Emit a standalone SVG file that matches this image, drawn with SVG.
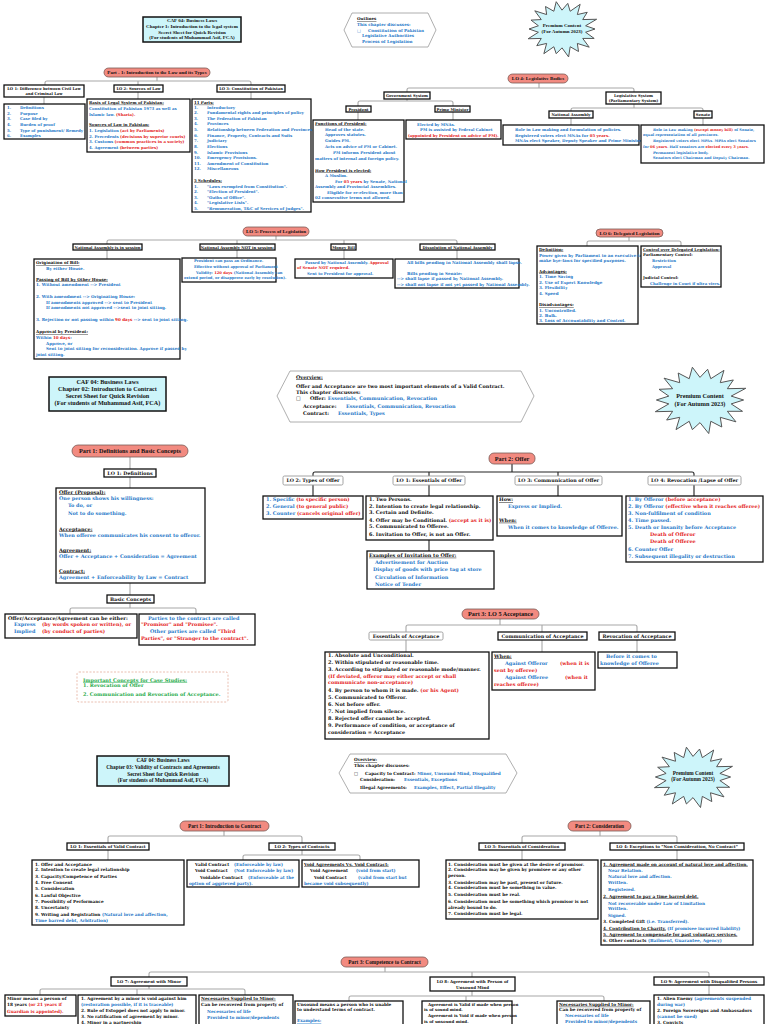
<svg xmlns="http://www.w3.org/2000/svg" width="768" height="1024" viewBox="0 0 768 1024">
<style>
text{font-family:"DejaVu Serif",serif;font-weight:bold;fill:#111}
.s1{font-size:4.1px}
.s2{font-size:4.95px}
.s3{font-size:4.25px}
.m{text-anchor:middle}
.u{fill:#1f78c8}
.r{fill:#e41b1b}
.g{fill:#1faa4a}
.h{text-decoration:underline}
.lb{font-size:3.75px}
.lb2{font-size:4.8px}
.lb3{font-size:4px}
.T{font-family:"Liberation Serif",serif}
.t1{font-size:5px}
.t2{font-size:6.2px}
.t3{font-size:5.3px}
.bx{fill:#fff;stroke:#111;stroke-width:1.3}
.gb{fill:#fff;stroke:#9a9a9a;stroke-width:0.9}
.pl{fill:#f28a80;stroke:#7a5a55;stroke-width:0.8}
.cy{fill:#cdf5fa;stroke:#111;stroke-width:1.5}
.hx{fill:#fff;stroke:#9a9a9a;stroke-width:0.8}
.st{fill:#cdf5fa;stroke:#555;stroke-width:1}
.cn{fill:none;stroke:#a8a8a8;stroke-width:1.1}
.ck{fill:none;stroke:#222;stroke-width:1.1}
.dz{fill:#fff;stroke:#e8b8a8;stroke-width:0.9;stroke-dasharray:2 1.5}
</style>
<defs>
<path id="star" vector-effect="non-scaling-stroke" d="M40,0 L28.6,5 L39,14.5 L25.1,14.5 L33,28 L18.6,22.2 L20,34.6 L9.9,27.3 L8,43 L0,29 L-7,38 L-9.9,27.3 L-22,38 L-18.6,22.2 L-30.6,25.7 L-25.1,14.5 L-41,15 L-28.6,5 L-40,0 L-28.6,-5 L-37.6,-13.7 L-25.1,-14.5 L-33,-28 L-18.6,-22.2 L-20,-34.6 L-9.9,-27.3 L-7,-42 L0,-29 L7,-39.4 L9.9,-27.3 L22,-38 L18.6,-22.2 L30.6,-25.7 L25.1,-14.5 L42,-15 L28.6,-5 Z"/>
</defs>
<rect width="768" height="1024" fill="#fff"/>

<g id="connectors">
<path class="cn" d="M157,77 V81 M45,85 V83 Q45,81 47,81 H249 Q251,81 251,83 V85 M138,81 V85"/>
<path class="cn" d="M44,97 V104 M138,92 V99 M251,92 V99"/>
<path class="cn" d="M539,83 V88 M407,92 V90 Q407,88 409,88 H632 Q634,88 634,90 V92"/>
<path class="cn" d="M407,99 V101 M358,106 V103 Q358,101 360,101 H451 Q453,101 453,103 V106 M358,112 V120 M453,112 V120"/>
<path class="cn" d="M634,104 V108 M571,111 V110 Q571,108 573,108 H701 Q703,108 703,110 V111 M571,118 V125 M703,118 V125"/>
<path class="cn" d="M276,236 V240 M107,244 V242 Q107,240 109,240 H455 Q457,240 457,242 V244 M237,240 V244 M344,240 V244"/>
<path class="cn" d="M107,250 V259 M237,250 V258 M344,250 V259 M457,250 V259"/>
<path class="cn" d="M629,237 V241 M587,246 V243 Q587,241 589,241 H679 Q681,241 681,243 V246"/>
<path class="cn" d="M130,457 V469" stroke-width="1.5"/>
<path class="cn" d="M130,477 V488 M130,583 V595" stroke-width="2.2"/>
<path class="cn" d="M130,603 V608 M70,614 V610 Q70,608 72,608 H194 Q196,608 196,610 V614"/>
<path class="ck" d="M512,464 V472 M313,476 V474 Q313,472 315,472 H692 Q694,472 694,474 V476 M429,472 V476 M558,472 V476"/>
<path class="ck" d="M313,485 V496 M429,485 V496 M558,485 V496 M694,485 V496 M429,540 V551"/>
<path class="cn" d="M500,619 V625 M406,632 V627 Q406,625 408,625 H635 Q637,625 637,627 V632 M542,625 V632"/>
<path class="cn" d="M406,640 V652 M542,640 V652 M637,640 V652"/>
<path class="cn" d="M224,831 V836 M108,843 V838 Q108,836 110,836 H300 Q302,836 302,838 V843"/>
<path class="cn" d="M108,850 V860 M302,850 V855 M243,860 V857 Q243,855 245,855 H358 Q360,855 360,857 V860"/>
<path class="cn" d="M600,831 V836 M522,843 V838 Q522,836 524,836 H675 Q677,836 677,838 V843 M522,850 V860 M677,850 V860"/>
<path class="cn" d="M385,967 V972 M149,977 V974 Q149,972 151,972 H707 Q709,972 709,974 V977 M472,972 V977"/>
<path class="cn" d="M149,986 V989 M40,995 V991 Q40,989 42,989 H243 Q245,989 245,991 V995 M137,989 V995 M709,985 V995"/>
<path class="cn" d="M472,991 V996 M349,1001 V998 Q349,996 351,996 H602 Q604,996 604,998 V1001 M466,996 V1001"/>
</g>

<!-- ===== Chapter 1 ===== -->
<g class="s1">
<g id="title1"><rect class="cy" x="143" y="17" width="98" height="25"/>
<text class="m T t1" x="192" y="21.8">CAF 04: Business Laws</text>
<text class="m T t1" x="192" y="27.8">Chapter 1: Introduction to the legal system</text>
<text class="m T t1" x="192" y="33.5">Secret Sheet for Quick Revision</text>
<text class="m T t1" x="192" y="39.2">(For students of Muhammad Asif, FCA)</text></g>

<g id="outlines1"><polygon class="hx" points="352,13 428,13 436,30 428,47 352,47 344,30"/>
<text class="h" x="357" y="20">Outlines</text>
<text class="u" x="357" y="25.8">This chapter discusses:</text>
<text class="u" x="357" y="31.5">□</text><text class="u" x="368" y="31.5">Constitution of Pakistan</text>
<text class="u" x="362" y="37.2">Legislative Authorities</text>
<text class="u" x="362" y="43">Process of Legislation</text></g>

<g id="premium1"><use href="#star" class="st" transform="translate(562,29) scale(0.825,0.65)"/>
<text class="m T t1" x="562" y="26.8">Premium Content</text>
<text class="m T t1" x="562" y="32.8">(For Autumn 2023)</text></g>

<g id="part1"><rect class="pl" x="104" y="68" width="106" height="9" rx="4.5"/>
<text class="m T t1" x="157" y="74.3">Part - 1: Introduction to the Law and its Types</text></g>

<g id="lo1"><rect class="bx" x="4" y="85" width="80" height="12"/>
<text class="m lb" x="44" y="89.8">LO 1: Difference between Civil Law</text>
<text class="m lb" x="44" y="95.2">and Criminal Law</text></g>
<g id="lo1c" style="font-size:3.9px"><rect class="bx" x="4" y="104" width="81" height="35"/>
<text class="u" x="7" y="108.7">1.</text><text class="u" x="20" y="108.7">Definitions</text>
<text class="u" x="7" y="114.5">2.</text><text class="u" x="20" y="114.5">Purpose</text>
<text class="u" x="7" y="120.2">3.</text><text class="u" x="20" y="120.2">Case filed by</text>
<text class="u" x="7" y="125.8">4.</text><text class="u" x="20" y="125.8">Burden of proof</text>
<text class="u" x="7" y="131.5">5.</text><text class="u" x="20" y="131.5">Type of punishment/ Remedy</text>
<text class="u" x="7" y="137">6.</text><text class="u" x="20" y="137">Examples</text></g>

<g id="lo2"><rect class="bx" x="114" y="85" width="49" height="7"/>
<text class="m lb" x="138.5" y="90.2">LO 2: Sources of Law</text></g>
<g id="lo2c" style="font-size:3.9px"><rect class="bx" x="87" y="99" width="103" height="53"/>
<text class="h" x="89" y="103.7">Basis of Legal System of Pakistan:</text>
<text class="u" x="89" y="109.7">Constitution of Pakistan 1973 as well as</text>
<text class="u" x="89" y="115.5">Islamic law. <tspan class="r">(Sharia).</tspan></text>
<text class="h" x="89" y="125.5">Sources of Law in Pakistan:</text>
<text class="u" x="89" y="132">1. Legislation <tspan class="r">(act by Parliaments)</tspan></text>
<text class="u" x="89" y="137.6">2. Precedents <tspan class="r">(decisions by superior courts)</tspan></text>
<text class="u" x="89" y="143.2">3. Customs <tspan class="r">(common practices in a society)</tspan></text>
<text class="u" x="89" y="148.8">4. Agreement <tspan class="r">(between parties)</tspan></text></g>

<g id="lo3"><rect class="bx" x="217" y="85" width="68" height="7"/>
<text class="m lb" x="251" y="90.2">LO 3: Constitution of Pakistan</text></g>
<g id="lo3c" style="font-size:3.95px"><rect class="bx" x="192" y="99" width="119" height="113"/>
<text class="h" x="194" y="103.7">11 Parts:</text>
<text class="u" x="194" y="108.7">1.</text><text class="u" x="207" y="108.7">Introductory</text>
<text class="u" x="194" y="114.2">2.</text><text class="u" x="207" y="114.2">Fundamental rights and principles of policy</text>
<text class="u" x="194" y="119.7">3.</text><text class="u" x="207" y="119.7">The Federation of Pakistan</text>
<text class="u" x="194" y="125.2">4.</text><text class="u" x="207" y="125.2">Provinces</text>
<text class="u" x="194" y="131">5.</text><text class="u" x="207" y="131">Relationship between Federation and Provinces</text>
<text class="u" x="194" y="136.5">6.</text><text class="u" x="207" y="136.5">Finance, Property, Contracts and Suits</text>
<text class="u" x="194" y="142">7.</text><text class="u" x="207" y="142">Judiciary</text>
<text class="u" x="194" y="148">8.</text><text class="u" x="207" y="148">Elections</text>
<text class="u" x="194" y="153.5">9.</text><text class="u" x="207" y="153.5">Islamic Provisions</text>
<text class="u" x="194" y="158.7">10.</text><text class="u" x="207" y="158.7">Emergency Provisions.</text>
<text class="u" x="194" y="164.5">11.</text><text class="u" x="207" y="164.5">Amendment of Constitution</text>
<text class="u" x="194" y="169.7">12.</text><text class="u" x="207" y="169.7">Miscellaneous</text>
<text class="h" x="194" y="181.5">5 Schedules:</text>
<text class="u" x="194" y="187.5">1.</text><text class="u" x="207" y="187.5">"Laws exempted from Constitution".</text>
<text class="u" x="194" y="193">2.</text><text class="u" x="207" y="193">"Election of President".</text>
<text class="u" x="194" y="198.5">3.</text><text class="u" x="207" y="198.5">"Oaths of Office".</text>
<text class="u" x="194" y="204">4.</text><text class="u" x="207" y="204">"Legislative Lists".</text>
<text class="u" x="194" y="209.5">5.</text><text class="u" x="207" y="209.5">"Remuneration, T&amp;C of Services of Judges".</text></g>

<g id="lo4"><rect class="pl" x="508" y="74" width="60" height="9" rx="4.5"/>
<text class="m T t1" x="538" y="80.2">LO 4: Legislative Bodies</text></g>
<g id="govsys"><rect class="bx" x="384" y="92" width="46" height="7"/>
<text class="m lb" x="407" y="97.1">Government System</text></g>
<g id="president"><rect class="bx" x="346" y="106" width="25" height="6"/>
<text class="m lb" x="358.5" y="110.6">President</text></g>
<g id="pm"><rect class="bx" x="435" y="106" width="35" height="6"/>
<text class="m lb" x="452.5" y="110.6">Prime Minister</text></g>
<g id="presc" style="font-size:3.95px"><rect class="bx" x="313" y="120" width="91" height="82"/>
<text class="h" x="315" y="124.5">Functions of President:</text>
<text class="u" x="325" y="130.5">Head of the state.</text>
<text class="u" x="325" y="136">Approves statutes.</text>
<text class="u" x="325" y="141.5">Guides PM.</text>
<text class="u" x="325" y="147.5">Acts on advice of PM or Cabinet.</text>
<text class="u" x="333" y="154">PM informs President about</text>
<text class="u" x="315" y="159.5">matters of internal and foreign policy.</text>
<text class="h" x="315" y="171.5">How President is elected:</text>
<text class="u" x="325" y="176.7">A Muslim.</text>
<text class="u" x="335" y="182.5">For <tspan class="r">05 years</tspan> by Senate, National</text>
<text class="u" x="315" y="188">Assembly and Provincial Assemblies.</text>
<text class="u" x="327" y="193.5">Eligible for re-election, more than</text>
<text class="u" x="315" y="199">02 consecutive terms not allowed.</text></g>
<g id="pmc" style="font-size:3.85px"><rect class="bx" x="406" y="120" width="95" height="19"/>
<text class="u" x="417" y="125.5">Elected by MNAs.</text>
<text class="u" x="420" y="131">PM is assisted by Federal Cabinet</text>
<text class="r" x="408" y="136.5">(appointed by President on advice of PM).</text></g>
<g id="legsys"><rect class="bx" x="606" y="92" width="55" height="12"/>
<text class="m lb" x="633.5" y="97">Legislative System</text>
<text class="m lb" x="633.5" y="102.4">(Parliamentary System)</text></g>
<g id="na"><rect class="bx" x="549" y="111" width="44" height="7"/>
<text class="m lb" x="571" y="116">National Assembly</text></g>
<g id="senate"><rect class="bx" x="694" y="111" width="18" height="7"/>
<text class="m lb" x="703" y="116">Senate</text></g>
<g id="nac" style="font-size:3.95px"><rect class="bx" x="503" y="125" width="136" height="20"/>
<text class="u" x="515" y="130.5">Role in Law making and formulation of policies.</text>
<text class="u" x="515" y="136.5">Registered voters elect MNAs for <tspan class="r">05 years.</tspan></text>
<text class="u" x="515" y="142">MNAs elect Speaker, Deputy Speaker and Prime Minister.</text></g>
<g id="senc" style="font-size:3.6px"><rect class="bx" x="641" y="125" width="123" height="38"/>
<text class="u" x="653" y="130.5">Role in Law making <tspan class="r">(except money bill)</tspan> of Senate,</text>
<text class="u" x="643" y="136">equal representation of all provinces.</text>
<text class="u" x="653" y="142">Registered voters elect MPAs. MPAs elect Senators</text>
<text class="u" x="643" y="147.5">for <tspan class="r">06 years</tspan>. Half senators are <tspan class="r">elected every 3 years.</tspan></text>
<text class="u" x="653" y="153.5">Permanent legislative body.</text>
<text class="u" x="653" y="159">Senators elect Chairman and Deputy Chairman.</text></g>

<g id="lo5"><rect class="pl" x="243" y="227" width="66" height="9" rx="4.5"/>
<text class="m T t1" x="276" y="233.2">LO 5: Process of Legislation</text></g>
<g id="sess"><rect class="bx" x="73" y="244" width="69" height="6"/>
<text class="m lb" x="107.5" y="248.6">National Assembly is in session</text></g>
<g id="nosess"><rect class="bx" x="200" y="244" width="75" height="6"/>
<text class="m lb" x="237.5" y="248.6">National Assembly NOT in session:</text></g>
<g id="money"><rect class="bx" x="331" y="244" width="25" height="6"/>
<text class="m lb" x="343.5" y="248.6">Money Bill</text></g>
<g id="dissol"><rect class="bx" x="420" y="244" width="75" height="6"/>
<text class="m lb" x="457.5" y="248.6">Dissolution of National Assembly</text></g>
<g id="sessc"><rect class="bx" x="34" y="259" width="146" height="100"/>
<text class="h" x="36" y="264">Origination of Bill:</text>
<text class="u" x="46" y="269.5">By either House.</text>
<text class="h" x="36" y="280.5">Passing of Bill by Other House:</text>
<text class="u" x="36" y="286">1. Without amendment --&gt; President</text>
<text class="u" x="36" y="297.5">2. With amendment --&gt; Originating House:</text>
<text class="u" x="46" y="303.5">If amendments approved --&gt; sent to President</text>
<text class="u" x="46" y="309">If amendments not approved --&gt;sent to joint sitting.</text>
<text class="u" x="36" y="320.5">3. Rejection or not passing within <tspan class="r">90 days</tspan> --&gt; sent to joint sitting.</text>
<text class="h" x="36" y="333">Approval by President:</text>
<text class="u" x="36" y="338.5">Within <tspan class="r">10 days</tspan>:</text>
<text class="u" x="46" y="344.5">Approve, or</text>
<text class="u" x="46" y="350">Sent to joint sitting for reconsideration. Approve if passed by</text>
<text class="u" x="36" y="355.5">joint sitting.</text></g>
<g id="nosessc" style="font-size:3.7px"><rect class="bx" x="182" y="258" width="94" height="24"/>
<text class="u" x="194" y="262.2">President can pass an Ordinance.</text>
<text class="u" x="194" y="267.7">Effective without approval of Parliament</text>
<text class="u" x="196" y="273.5">Validity:  <tspan class="r">120 days</tspan> (National Assembly can</text>
<text class="u" x="184" y="279">extend period, or disapprove early by resolution).</text></g>
<g id="moneyc" style="font-size:3.85px"><rect class="bx" x="295" y="259" width="98" height="19"/>
<text class="u" x="305" y="263.5">Passed by National Assembly. <tspan class="r">Approval</tspan></text>
<text class="r" x="297" y="269">of Senate NOT required.</text>
<text class="u" x="307" y="274.7">Sent to President for approval.</text></g>
<g id="dissolc"><rect class="bx" x="395" y="259" width="124" height="29"/>
<text class="u" x="407" y="263.5">All bills pending in National Assembly shall lapse.</text>
<text class="u" x="407" y="274.5">Bills pending in Senate:</text>
<text class="u" x="397" y="280">--&gt; shall lapse if passed by National Assembly.</text>
<text class="u" x="397" y="285.5">--&gt; shall not lapse if not yet passed by National Assembly.</text></g>

<g id="lo6"><rect class="pl" x="596" y="229" width="67" height="8" rx="4"/>
<text class="m T t1" x="629.5" y="234.8">LO 6: Delegated Legislation</text></g>
<g id="defbox"><rect class="bx" x="537" y="246" width="101" height="78"/>
<text class="h" x="539" y="250.5">Definition:</text>
<text class="u" x="539" y="256.5">Power given by Parliament to an executive to</text>
<text class="u" x="539" y="261.5">make bye-laws for specified purposes.</text>
<text class="h" x="539" y="272.5">Advantages:</text>
<text class="u" x="539" y="278">1. Time Saving</text>
<text class="u" x="539" y="283.5">2. Use of Expert Knowledge</text>
<text class="u" x="539" y="289">3. Flexibility</text>
<text class="u" x="539" y="294.5">4. Speed</text>
<text class="h" x="539" y="306">Disadvantages:</text>
<text class="u" x="539" y="311.5">1. Uncontrolled.</text>
<text class="u" x="539" y="316.7">2. Bulk.</text>
<text class="u" x="539" y="322">3. Loss of Accountability and Control.</text></g>
<g id="ctrlbox" style="font-size:3.85px"><rect class="bx" x="641" y="246" width="80" height="41"/>
<text class="h" x="643" y="250.5">Control over Delegated Legislation:</text>
<text x="643" y="256">Parliamentary Control:</text>
<text class="u" x="652" y="261.5">Restriction</text>
<text class="u" x="652" y="267.5">Approval</text>
<text x="643" y="279">Judicial Control:</text>
<text class="u" x="650" y="284.5">Challenge in Court if ultra vires.</text></g>
</g>

<!-- ===== Chapter 2 ===== -->
<g class="s2">
<g id="title2"><rect class="cy" x="49" y="377" width="117" height="34"/>
<text class="m T t2" x="107.5" y="384">CAF 04: Business Laws</text>
<text class="m T t2" x="107.5" y="391">Chapter 02: Introduction to Contract</text>
<text class="m T t2" x="107.5" y="397.8">Secret Sheet for Quick Revision</text>
<text class="m T t2" x="107.5" y="405.4">(For students of Muhammad Asif, FCA)</text></g>
<g id="overview2"><polygon class="hx" points="290,371 521,371 534,396 521,422 290,422 277,396"/>
<text class="h" x="296" y="378.5">Overview:</text>
<text x="296" y="387.5">Offer and Acceptance are two most important elements of a Valid Contract.</text>
<text x="296" y="393.5">This chapter discusses:</text>
<text x="296" y="399.8">□</text><text x="310" y="399.8">Offer: <tspan class="u">Essentials, Communication, Revocation</tspan></text>
<text x="303" y="407.5">Acceptance:</text><text class="u" x="346" y="407.5">Essentials, Communication, Revocation</text>
<text x="303" y="414.5">Contract:</text><text class="u" x="338" y="414.5">Essentials, Types</text></g>
<g id="premium2"><use href="#star" class="st" transform="translate(700,400) scale(1.09,0.78)"/>
<text class="m T t2" x="700" y="398">Premium Content</text>
<text class="m T t2" x="700" y="405.8">(For Autumn 2023)</text></g>

<g id="p1def"><rect class="pl" x="72" y="445" width="116" height="12" rx="6"/>
<text class="m T t2" x="130" y="453.2">Part 1: Definitions and Basic Concepts</text></g>
<g id="lo1def"><rect class="bx" x="104" y="469" width="52" height="8"/>
<text class="m lb2" x="130" y="474.7">LO 1: Definitions</text></g>
<g id="defc"><rect class="bx" x="56" y="488" width="149" height="95"/>
<text class="h" x="59" y="493.5">Offer (Proposal):</text>
<text class="u" x="59" y="499.7">One person shows his willingness:</text>
<text class="u" x="68" y="506.7">To do, or</text>
<text class="u" x="68" y="514.5">Not to do something.</text>
<text class="h" x="59" y="530.5">Acceptance:</text>
<text class="u" x="59" y="536.7">When offeree communicates his consent to offeror.</text>
<text class="h" x="59" y="551.5">Agreement:</text>
<text class="u" x="59" y="557.7">Offer + Acceptance + Consideration = Agreement</text>
<text class="h" x="59" y="572.5">Contract:</text>
<text class="u" x="59" y="578.7">Agreement + Enforceability by Law = Contract</text></g>
<g id="basic"><rect class="bx" x="107" y="595" width="47" height="8"/>
<text class="m lb2" x="130.5" y="600.7">Basic Concepts</text></g>
<g id="oaa"><rect class="bx" x="5" y="614" width="132" height="24"/>
<text x="8" y="619.7">Offer/Acceptance/Agreement can be either:</text>
<text class="u" x="14" y="626.2">Express</text><text class="r" x="42" y="626.2">(by words spoken or written), or</text>
<text class="u" x="14" y="632.7">Implied</text><text class="r" x="42" y="632.7">(by conduct of parties)</text></g>
<g id="parties"><rect class="bx" x="139" y="614" width="116" height="31"/>
<text class="u" x="148" y="619.7">Parties to the contract are called</text>
<text class="r" x="141" y="626.4">"Promisor" and "Promisee".</text>
<text class="u" x="150" y="633">Other parties are called <tspan class="r">"Third</tspan></text>
<text class="r" x="141" y="639.7">Parties", or "Stranger to the contract".</text></g>
<g id="important"><rect class="dz" x="77" y="672" width="151" height="30" rx="2"/>
<text class="g h" x="83" y="681.5">Important Concepts for Case Studies:</text>
<text class="g" x="83" y="687.3">1. Revocation of Offer</text>
<text class="g" x="83" y="695.7">2. Communication and Revocation of Acceptance.</text></g>

<g id="p2offer"><rect class="pl" x="489" y="453" width="46" height="11" rx="5"/>
<text class="m T t2" x="512" y="460.6">Part 2: Offer</text></g>
<g id="lotypes"><rect class="gb" x="283" y="476" width="60" height="9" rx="1.5"/>
<text class="m lb2" x="313" y="482.1">LO 2: Types of Offer</text></g>
<g id="loess"><rect class="gb" x="393" y="476" width="72" height="9" rx="1.5"/>
<text class="m lb2" x="429" y="482.1">LO 1: Essentials of Offer</text></g>
<g id="locomm"><rect class="gb" x="515" y="476" width="87" height="9" rx="1.5"/>
<text class="m lb2" x="558.5" y="482.1">LO 3: Communication of Offer</text></g>
<g id="lorev"><rect class="gb" x="648" y="476" width="93" height="9" rx="1.5"/>
<text class="m lb2" x="694.5" y="482.1">LO 4: Revocation /Lapse of Offer</text></g>
<g id="typesc"><rect class="bx" x="263" y="496" width="100" height="23"/>
<text class="u" x="266" y="501">1. Specific <tspan class="r">(to specific person)</tspan></text>
<text class="u" x="266" y="507.6">2. General <tspan class="r">(to general public)</tspan></text>
<text class="u" x="266" y="514.5">3. Counter <tspan class="r">(cancels original offer)</tspan></text></g>
<g id="essc"><rect class="bx" x="366" y="496" width="127" height="44"/>
<text x="369" y="501">1. Two Persons.</text>
<text x="369" y="507.6">2. Intention to create legal relationship.</text>
<text x="369" y="514.2">3. Certain and Definite.</text>
<text x="369" y="521.5">4. Offer may be Conditional. <tspan class="r">(accept as it is)</tspan></text>
<text x="369" y="528">5. Communicated to Offeree.</text>
<text x="369" y="535.5">6. Invitation to Offer, is not an Offer.</text></g>
<g id="examples"><rect class="bx" x="367" y="551" width="127" height="38"/>
<text class="h" x="369" y="556.7">Examples of Invitation to Offer:</text>
<text class="u" x="375" y="563.7">Advertisement for Auction</text>
<text class="u" x="373" y="571.2">Display of goods with price tag at store</text>
<text class="u" x="375" y="578.7">Circulation of Information</text>
<text class="u" x="375" y="585.7">Notice of Tender</text></g>
<g id="commc"><rect class="bx" x="497" y="496" width="125" height="40"/>
<text class="h" x="499" y="501.2">How:</text>
<text class="u" x="508" y="507.7">Express or Implied.</text>
<text class="h" x="499" y="521.7">When:</text>
<text class="u" x="508" y="529.2">When it comes to knowledge of Offeree.</text></g>
<g id="revc"><rect class="bx" x="626" y="496" width="137" height="66"/>
<text class="u" x="628" y="501">1. By Offeror <tspan class="r">(before acceptance)</tspan></text>
<text class="u" x="628" y="507.6">2. By Offeror <tspan class="r">(effective when it reaches offeree)</tspan></text>
<text class="u" x="628" y="514.6">3. Non-fulfilment of condition</text>
<text class="u" x="628" y="522">4. Time passed.</text>
<text class="u" x="628" y="528.6">5. Death or Insanity before Acceptance</text>
<text class="r" x="650" y="535.7">Death of Offeror</text>
<text class="r" x="650" y="543.2">Death of Offeree</text>
<text class="u" x="628" y="551">6. Counter Offer</text>
<text class="u" x="628" y="557.7">7. Subsequent illegality or destruction</text></g>

<g id="p3acc"><rect class="pl" x="462" y="609" width="77" height="10" rx="5"/>
<text class="m T t2" x="500.5" y="616">Part 3: LO 5 Acceptance</text></g>
<g id="essacc"><rect class="gb" x="369" y="632" width="74" height="8" rx="1.5"/>
<text class="m lb2" x="406" y="637.7">Essentials of Acceptance</text></g>
<g id="commacc"><rect class="bx" x="498" y="632" width="89" height="8"/>
<text class="m lb2" x="542.5" y="637.7">Communication of Acceptance</text></g>
<g id="revacc"><rect class="bx" x="599" y="632" width="76" height="8"/>
<text class="m lb2" x="637" y="637.7">Revocation of Acceptance</text></g>
<g id="essaccc"><rect class="bx" x="325" y="652" width="164" height="87"/>
<text x="328" y="656.7">1. Absolute and Unconditional.</text>
<text x="328" y="663.7">2. Within stipulated or reasonable time.</text>
<text x="328" y="670.7">3. According to stipulated or reasonable mode/manner.</text>
<text class="r" x="328" y="677.7">(If deviated, offeror may either accept or shall</text>
<text class="r" x="328" y="683.7">communicate non-acceptance)</text>
<text x="328" y="691.5">4. By person to whom it is made. <tspan class="r">(or his Agent)</tspan></text>
<text x="328" y="698.5">5. Communicated to Offeror.</text>
<text x="328" y="705.5">6. Not before offer.</text>
<text x="328" y="713">7. Not implied from silence.</text>
<text x="328" y="720">8. Rejected offer cannot be accepted.</text>
<text x="328" y="726.7">9.   Performance of condition, or acceptance of</text>
<text x="328" y="733.7">consideration = Acceptance</text></g>
<g id="commaccc"><rect class="bx" x="492" y="652" width="103" height="38"/>
<text class="h" x="494" y="657.5">When:</text>
<text class="u" x="505" y="664.5">Against Offeror</text><text class="r" x="560" y="664.5">(when it is</text>
<text class="r" x="494" y="671.5">sent by offeree)</text>
<text class="u" x="505" y="678.5">Against Offeree</text><text class="r" x="565" y="678.5">(when it</text>
<text class="r" x="494" y="685.5">reaches offeree)</text></g>
<g id="revaccc"><rect class="bx" x="598" y="652" width="79" height="16"/>
<text class="u" x="606" y="657.5">Before it comes to</text>
<text class="u" x="600" y="664.7">knowledge of Offeree</text></g>
</g>

<!-- ===== Chapter 3 ===== -->
<g class="s3">
<g id="title3"><rect class="cy" x="97" y="756" width="132" height="30"/>
<text class="m T t3" x="163" y="762.2">CAF 04: Business Laws</text>
<text class="m T t3" x="163" y="768.8">Chapter 03: Validity of Contracts and Agreements</text>
<text class="m T t3" x="163" y="775.7">Secret Sheet for Quick Revision</text>
<text class="m T t3" x="163" y="782.2">(For students of Muhammad Asif, FCA)</text></g>
<g id="overview3"><polygon class="hx" points="350,754 506,754 517,773 506,793 350,793 339,773"/>
<text class="h" x="354" y="761">Overview:</text>
<text x="354" y="766.5">This chapter discusses:</text>
<text x="354" y="774.5">□</text><text x="365" y="774.5">Capacity to Contract: <tspan class="u">Minor, Unsound Mind, Disqualified</tspan></text>
<text x="360" y="781">Consideration:</text><text class="u" x="404" y="781">Essentials, Exceptions</text>
<text x="360" y="788.5">Illegal Agreements:</text><text class="u" x="414" y="788.5">Examples, Effect, Partial Illegality</text></g>
<g id="premium3"><use href="#star" class="st" transform="translate(693,777) scale(0.94,0.71)"/>
<text class="m T t3" x="693" y="775">Premium Content</text>
<text class="m T t3" x="693" y="781.4">(For Autumn 2023)</text></g>

<g id="p1intro"><rect class="pl" x="180" y="821" width="89" height="10" rx="5"/>
<text class="m T t3" x="224.5" y="827.7">Part 1: Introduction to Contract</text></g>
<g id="lo1valid"><rect class="bx" x="67" y="843" width="82" height="7"/>
<text class="m lb3" x="108" y="848.1">LO 1: Essentials of Valid Contract</text></g>
<g id="lo2types"><rect class="bx" x="269" y="843" width="66" height="7"/>
<text class="m lb3" x="302" y="848.1">LO 2: Types of Contracts</text></g>
<g id="validc"><rect class="bx" x="32" y="860" width="152" height="65"/>
<text x="35" y="865.5">1. Offer and Acceptance</text>
<text x="35" y="871">2. Intention to create legal relationship</text>
<text x="35" y="877.5">3. Capacity/Competence of Parties</text>
<text x="35" y="883.5">4. Free Consent</text>
<text x="35" y="889.5">5. Consideration</text>
<text x="35" y="896.5">6. Lawful Objective</text>
<text x="35" y="902.5">7. Possibility of Performance</text>
<text x="35" y="908.5">8. Uncertainty</text>
<text x="35" y="915.5">9.  Writing and Registration <tspan class="u">(Natural love and affection,</tspan></text>
<text class="u" x="35" y="921.5">Time barred debt, Arbitration)</text></g>
<g id="typesc1"><rect class="bx" x="187" y="860" width="112" height="27"/>
<text x="195" y="865.5">Valid Contract</text><text class="u" x="234" y="865.5">(Enforceable by law)</text>
<text x="195" y="871.5">Void Contract</text><text class="u" x="234" y="871.5">(Not Enforceable by law)</text>
<text x="200" y="878.5">Voidable Contract</text><text class="u" x="248" y="878.5">(Enforceable at the</text>
<text class="u" x="189" y="884.5">option of aggrieved party).</text></g>
<g id="typesc2"><rect class="bx" x="302" y="860" width="117" height="27"/>
<text class="h" x="304" y="865.5">Void Agreements Vs. Void Contract:</text>
<text x="310" y="871.5">Void Agreement</text><text class="u" x="356" y="871.5">(void from start)</text>
<text x="314" y="878.5">Void Contract</text><text class="u" x="358" y="878.5">(valid from start but</text>
<text class="u" x="304" y="884.5">became void subsequently)</text></g>

<g id="p2cons"><rect class="pl" x="568" y="821" width="63" height="10" rx="5"/>
<text class="m T t3" x="599.5" y="827.7">Part 2: Consideration</text></g>
<g id="lo3cons"><rect class="bx" x="479" y="843" width="86" height="7"/>
<text class="m lb3" x="522" y="848.1">LO 3: Essentials of Consideration</text></g>
<g id="lo4exc"><rect class="bx" x="610" y="843" width="134" height="7"/>
<text class="m lb3" x="677" y="848.1">LO 4: Exceptions to "Non Consideration, No Contract"</text></g>
<g id="consc"><rect class="bx" x="446" y="860" width="152" height="59"/>
<text x="448" y="865.5">1. Consideration must be given at the desire of promisor.</text>
<text x="448" y="871">2.  Consideration may be given by promisee or any other</text>
<text x="448" y="876.7">person.</text>
<text x="448" y="883.5">3. Consideration may be past, present or future.</text>
<text x="448" y="888.7">4. Consideration must be something in value.</text>
<text x="448" y="895.5">5. Consideration must be real.</text>
<text x="448" y="902.5">6. Consideration must be something which promisor is not</text>
<text x="448" y="908.5">already bound to do.</text>
<text x="448" y="914.7">7. Consideration must be legal.</text></g>
<g id="excc"><rect class="bx" x="601" y="860" width="152" height="85"/>
<text class="h" x="603" y="865.5">1. Agreement made on account of natural love and affection.</text>
<text class="u" x="608" y="871.5">Near Relation.</text>
<text class="u" x="608" y="877.5">Natural love and affection.</text>
<text class="u" x="608" y="884">Written.</text>
<text class="u" x="608" y="890.5">Registered.</text>
<text class="h" x="603" y="897.5">2. Agreement to pay a time barred debt.</text>
<text class="u" x="608" y="904.5">Not recoverable under Law of Limitation</text>
<text class="u" x="608" y="910">Written.</text>
<text class="u" x="608" y="916.5">Signed.</text>
<text x="603" y="922.5">3. Completed Gift <tspan class="u">(i.e. Transferred).</tspan></text>
<text x="603" y="929.5"><tspan class="h">4. Contribution to Charity.</tspan> <tspan class="u">(If promisee incurred liability)</tspan></text>
<text class="h" x="603" y="935.5">5. Agreement to compensate for past voluntary services.</text>
<text x="603" y="941.5">6. Other contracts <tspan class="u">(Bailment, Guarantee, Agency)</tspan></text></g>

<g id="p3comp"><rect class="pl" x="341" y="957" width="87" height="10" rx="5"/>
<text class="m T t3" x="384.5" y="963.7">Part 3: Competence to Contract</text></g>
<g id="lo7"><rect class="bx" x="111" y="977" width="76" height="9"/>
<text class="m lb3" x="149" y="982.9">LO 7: Agreement with Minor</text></g>
<g id="lo8"><rect class="bx" x="430" y="977" width="85" height="14"/>
<text class="m lb3" x="472.5" y="982.6">LO 8: Agreement with Person of</text>
<text class="m lb3" x="472.5" y="988.6">Unsound Mind</text></g>
<g id="lo9"><rect class="bx" x="654" y="977" width="110" height="8"/>
<text class="m lb3" x="709" y="982.5">LO 9: Agreement with Disqualified Persons</text></g>
<g id="minordef"><rect class="bx" x="5" y="995" width="71" height="21"/>
<text x="7" y="999.7">Minor means a person of</text>
<text x="7" y="1006.2">18 years <tspan class="r">(or 21 years if</tspan></text>
<text class="r" x="7" y="1013">Guardian is appointed).</text></g>
<g id="minoragr"><rect class="bx" x="78" y="995" width="118" height="35"/>
<text x="81" y="999.7">1. Agreement by a minor is void against him</text>
<text class="u" x="81" y="1005.7">(restoration possible, if it is traceable)</text>
<text x="81" y="1012">2. Rule of Estoppel does not apply to minor.</text>
<text x="81" y="1017.7">3. No ratification of agreement by minor.</text>
<text x="81" y="1023.7">4. Minor in a partnership</text></g>
<g id="minornec"><rect class="bx" x="199" y="995" width="94" height="35"/>
<text class="h" x="201" y="999.7">Necessaries Supplied to Minor:</text>
<text x="201" y="1005.7">Can be recovered from property of</text>
<text class="u" x="207" y="1012.5">Necessaries of life</text>
<text class="u" x="207" y="1018.5">Provided to minor/dependents</text></g>
<g id="unsound1"><rect class="bx" x="295" y="1001" width="108" height="30"/>
<text x="297" y="1005.7">Unsound means a person who is unable</text>
<text x="297" y="1010.7">to understand terms of contract.</text>
<text class="u h" x="297" y="1022">Examples:</text></g>
<g id="unsound2" style="font-size:4px"><rect class="bx" x="422" y="1001" width="90" height="30"/>
<text x="428" y="1005.7">Agreement is Valid if made when person</text>
<text x="424" y="1010.7">is of sound mind.</text>
<text x="428" y="1017">Agreement is Void if made when person</text>
<text x="424" y="1022.5">is of unsound mind.</text></g>
<g id="unsoundnec"><rect class="bx" x="557" y="1001" width="93" height="30"/>
<text class="h" x="559" y="1005.7">Necessaries Supplied to Minor:</text>
<text x="559" y="1010.7">Can be recovered from property of</text>
<text class="u" x="565" y="1016.7">Necessaries of life</text>
<text class="u" x="565" y="1022.7">Provided to minor/dependents</text></g>
<g id="disq"><rect class="bx" x="654" y="995" width="110" height="35"/>
<text x="657" y="999.7">1. Alien Enemy <tspan class="u">(agreements suspended</tspan></text>
<text class="u" x="657" y="1005.7">during war)</text>
<text x="657" y="1012">2. Foreign Sovereigns and Ambassadors</text>
<text class="u" x="657" y="1018">(cannot be sued)</text>
<text x="657" y="1024">3. Convicts</text></g>
</g>
</svg>
